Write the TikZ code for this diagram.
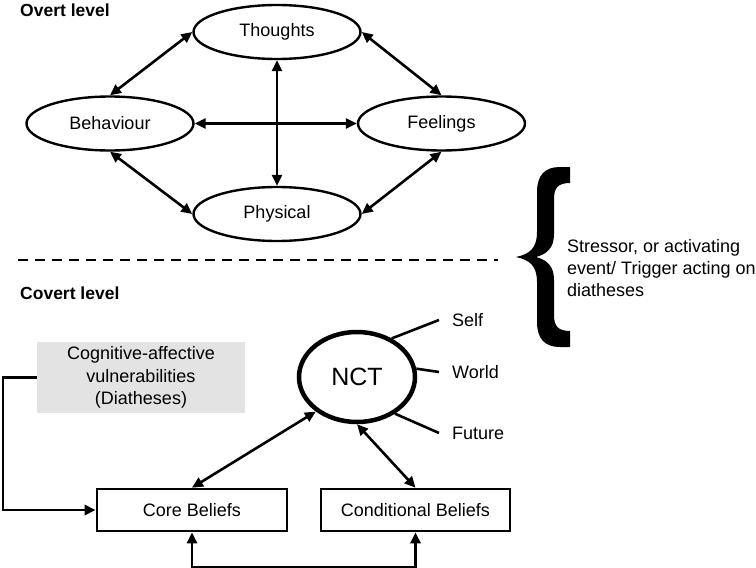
\documentclass[tikz,border=0pt]{standalone}
\usepackage{fontspec}
\setmainfont{Liberation Sans}
\usetikzlibrary{arrows.meta,shapes.geometric}
\tikzset{
  oval/.style={draw, ellipse, line width=2.4pt, minimum width=167pt, minimum height=54pt, inner sep=0pt, font=\fontsize{18}{21}\selectfont},
  box/.style={draw, rectangle, line width=2.6pt, minimum height=42pt, inner sep=0pt, font=\fontsize{18}{21}\selectfont},
  tip/.tip={Triangle[length=11pt,width=10pt]},
  biarr/.style={line width=2.6pt, {tip}-{tip}},
  arr/.style={line width=2.6pt, -{tip}},
  plain/.style={line width=2.6pt},
  lbl/.style={font=\fontsize{18}{22}\selectfont, inner sep=0pt},
  head/.style={font=\bfseries\fontsize{17.5}{20}\selectfont, inner sep=0pt}
}
\begin{document}
\begin{tikzpicture}[x=1pt,y=-1pt]
\useasboundingbox (0,0) rectangle (756,568);
% overt level
\node[head, anchor=west] (overt) at (20,10) {Overt level};
\node[oval] (th) at (277,32) {Thoughts};
\node[oval] (be) at (110,123.5) {Behaviour};
\node[oval] (fe) at (441.5,123.5) {Feelings};
\node[oval] (ph) at (277,214) {Physical};
\draw[biarr] (th.west) -- (be.north);
\draw[biarr] (th.east) -- (fe.north);
\draw[biarr] (be.south) -- (ph.west);
\draw[biarr] (fe.south) -- (ph.east);
\draw[biarr] (be.east) -- (fe.west);
\draw[biarr] (th.south) -- (ph.north);
% divider
\draw[line width=2.6pt, dash pattern=on 10pt off 7pt] (18,260) -- (498,260);
% brace
\fill (570,167) -- (560,167) .. controls (545,167) and (537,175) .. (537,192) -- (537,232)
  .. controls (537,248) and (530,254) .. (516,257)
  .. controls (530,260) and (537,266) .. (537,282) -- (537,322)
  .. controls (537,339) and (545,347) .. (560,347) -- (570,347) -- (570,331)
  .. controls (558,331) and (554,326) .. (554,315) -- (554,280)
  .. controls (554,266) and (547,260) .. (536,257)
  .. controls (547,254) and (554,248) .. (554,234) -- (554,199)
  .. controls (554,188) and (558,183) .. (570,183) -- cycle;
\node[lbl, anchor=west, align=left] (trig) at (567,268) {Stressor, or activating\\event/ Trigger acting on\\diatheses};
% covert level
\node[head, anchor=west] (covert) at (20,293) {Covert level};
\node[fill=black!11, minimum width=208pt, minimum height=71pt, inner sep=0pt, align=center, font=\fontsize{18}{22.5}\selectfont] (gray) at (141,377.5) {Cognitive-affective\\vulnerabilities\\(Diatheses)};
\node[draw, ellipse, line width=4.5pt, minimum width=116pt, minimum height=90pt, inner sep=0pt, font=\fontsize{25}{28}\selectfont] (nct) at (357,377) {NCT};
\node[lbl, anchor=west] (self) at (452,320) {Self};
\node[lbl, anchor=west] (world) at (452,372) {World};
\node[lbl, anchor=west] (future) at (452,433) {Future};
\coordinate (cself) at (439,320);
\coordinate (cworld) at (439,372);
\coordinate (cfuture) at (439,433);
\draw[plain] (nct.48) -- (cself);
\draw[plain] (nct.8) -- (cworld);
\draw[plain] (nct.-44) -- (cfuture);
\node[box, minimum width=190pt] (core) at (192,510) {Core Beliefs};
\node[box, minimum width=189pt] (cond) at (415.5,510) {Conditional Beliefs};
\draw[biarr] (nct.220) -- (core.north);
\draw[biarr] (nct.south) -- (cond.north);
\draw[arr] (gray.west) -- ++(-34,0) |- (core.west);
\draw[biarr] (core.south) -- ++(0,35) -| (cond.south);
\end{tikzpicture}
\end{document}
